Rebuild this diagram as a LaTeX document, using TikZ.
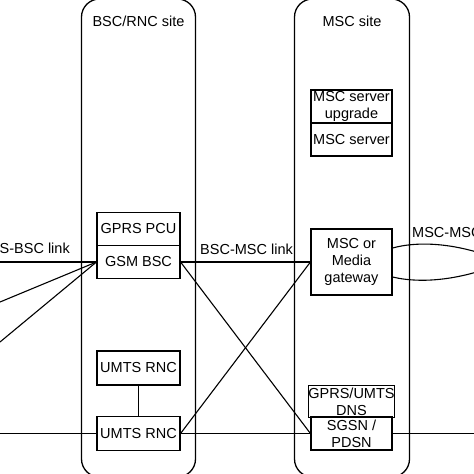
\documentclass[tikz,border=0pt]{standalone}
\usepackage{fontspec}
\setmainfont{Liberation Sans}
\begin{document}
\begin{tikzpicture}[x=1pt,y=-1pt,
  every node/.style={font=\fontsize{14.5}{17}\selectfont},
  box/.style={draw,line width=1.1pt,inner sep=0pt,align=center,minimum width=83pt},
  mbox/.style={draw,line width=1.1pt,inner sep=0pt,align=center,minimum width=81pt},
  site/.style={draw,line width=1.3pt,rounded corners=18pt},
  link/.style={line width=1.1pt},
  lbl/.style={inner sep=0pt}]
\useasboundingbox (0,0) rectangle (474,474);
\clip (0,0) rectangle (474,474);
% sites
\draw[site] (81.5,-1) rectangle (195.5,477);
\draw[site] (294.5,-1) rectangle (409.5,477);
\node[lbl] (bsclbl) at (138.5,21) {BSC/RNC site};
\node[lbl] (msclbl) at (352,21) {MSC site};
% BSC/RNC boxes
\node[box,minimum height=33pt] (pcu) at (138.5,229) {GPRS PCU};
\node[box,minimum height=33pt] (gsm) at (138.5,262) {GSM BSC};
\node[box,minimum height=34pt] (rnc1) at (138.5,368) {UMTS RNC};
\node[box,minimum height=34pt] (rnc2) at (138.5,433.5) {UMTS RNC};
% MSC boxes
\node[mbox,minimum height=33pt] (upg) at (351.5,106.5) {MSC server\\upgrade};
\node[mbox,minimum height=33pt] (srv) at (351.5,139.5) {MSC server};
\node[mbox,minimum height=66pt] (mgw) at (351.5,262) {MSC or\\Media\\gateway};
\node[mbox,minimum height=32pt] (dns) at (351.5,401.5) {GPRS/UMTS\\DNS};
\node[mbox,minimum height=33pt] (sgsn) at (351.5,433.5) {SGSN /\\PDSN};
% free ends
\coordinate (lh) at (0,262);
\coordinate (ld1) at (0,302);
\coordinate (ld2) at (0,342);
\coordinate (lb) at (0,433.5);
\coordinate (rb) at (474,433.5);
\coordinate (rt) at (505,262);
% links
\draw[link] (lh) -- (gsm.west);
\draw[link] (gsm.west) -- (ld1);
\draw[link] (gsm.west) -- (ld2);
\draw[link] (gsm.east) -- (mgw.west);
\draw[link] (gsm.east) -- (sgsn.west);
\draw[link] (rnc2.east) -- (mgw.west);
\draw[link] (rnc1.south) -- (rnc2.north);
\draw[link] (lb) -- (rnc2.west);
\draw[link] (rnc2.east) -- (sgsn.west);
\draw[link] (sgsn.east) -- (rb);
\draw[link] ([yshift=14pt]mgw.east) .. controls (422,240) and (462,244) .. (rt);
\draw[link] ([yshift=-15pt]mgw.east) .. controls (422,284) and (462,280) .. (rt);
% link labels
\node[lbl,anchor=west] (l1) at (-0.5,248) {S-BSC link};
\node[lbl,anchor=west] (l2) at (200,249) {BSC-MSC link};
\node[lbl,anchor=west] (l3) at (412,233) {MSC-MSC};
\end{tikzpicture}
\end{document}
